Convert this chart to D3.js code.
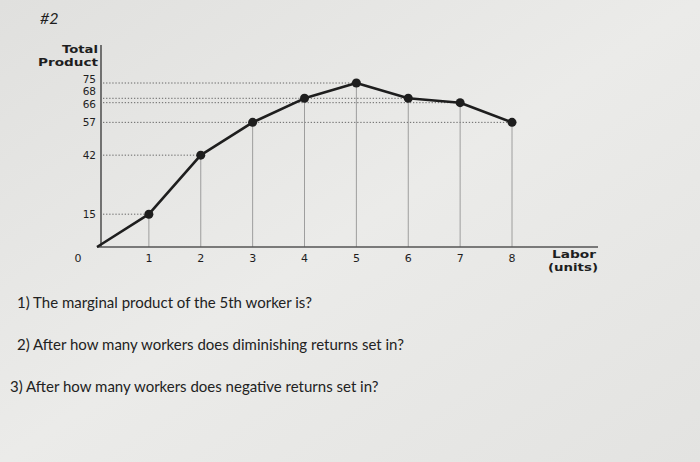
<!DOCTYPE html>
<html><head><meta charset="utf-8">
<script src="https://cdn.jsdelivr.net/npm/d3@7"></script>
<style>
html,body{margin:0;padding:0;background:#e7e7e5;}
svg{display:block;}
</style></head>
<body>
<script>
const labor = [0, 1, 2, 3, 4, 5, 6, 7, 8];
const totalProduct = [0, 15, 42, 57, 68, 75, 68, 66, 57];
const yTicks = [15, 42, 57, 66, 68, 75];
const xTicks = [1, 2, 3, 4, 5, 6, 7, 8];
const questions = [
  "1) The marginal product of the 5th worker is?",
  "2) After how many workers does diminishing returns set in?",
  "3) After how many workers does negative returns set in?"
];

const W = 700, H = 462;
const svg = d3.select("body").append("svg").attr("width", W).attr("height", H);

const defs = svg.append("defs");
const grad = defs.append("linearGradient").attr("id","bg").attr("x1","0").attr("x2","1").attr("y1","0").attr("y2","1");
grad.append("stop").attr("offset","0").attr("stop-color","#e0e0de");
grad.append("stop").attr("offset","0.5").attr("stop-color","#ebebe9");
grad.append("stop").attr("offset","1").attr("stop-color","#e3e3e1");
svg.append("rect").attr("width",W).attr("height",H).attr("fill","url(#bg)");

const x = d3.scaleLinear().domain([0, 8]).range([97, 512]);
const y = d3.scaleLinear().domain([0, 75]).range([247, 83]);
const axisX = 101;

const data = labor.map((l, i) => ({l, v: totalProduct[i]}));
const ink = "#1e1e1e";
const font = "'DejaVu Sans', Arial, sans-serif";

// "#2"
svg.append("text").attr("x", 40).attr("y", 24).text("#2")
  .attr("font-family","Lato, 'Open Sans', sans-serif").attr("font-style","italic")
  .attr("font-size", 16).attr("fill", ink);

// dotted horizontal guides: from y axis to the furthest point with that value
yTicks.forEach(t => {
  const maxL = d3.max(data.filter(d => d.v === t), d => d.l);
  svg.append("line").attr("x1", axisX + 2).attr("x2", x(maxL))
    .attr("y1", y(t)).attr("y2", y(t))
    .attr("stroke", "#666").attr("stroke-width", 1).attr("stroke-dasharray", "1.3,1.8");
});

// vertical thin lines from points to axis
data.filter(d => d.l > 0).forEach(d => {
  svg.append("line").attr("x1", x(d.l)).attr("x2", x(d.l))
    .attr("y1", y(d.v)).attr("y2", y(0))
    .attr("stroke", "#8a8a8a").attr("stroke-width", 0.8);
});

// axes
svg.append("line").attr("x1", axisX).attr("x2", axisX).attr("y1", y(0)).attr("y2", 45)
  .attr("stroke", "#333").attr("stroke-width", 1.3);
svg.append("line").attr("x1", x(0)).attr("x2", 598).attr("y1", y(0)).attr("y2", y(0))
  .attr("stroke", "#555").attr("stroke-width", 1.3);

// y tick labels
const yOff = {75: -4, 68: -6.8, 66: 1.8};
svg.selectAll(".yt").data(yTicks).enter().append("text")
  .attr("x", axisX - 5).attr("y", d => y(d) + (yOff[d] || 0))
  .attr("dy", "0.36em").attr("text-anchor", "end")
  .attr("font-family", font).attr("font-size", 10.5).attr("fill", ink)
  .text(d => d);

// x tick labels
svg.selectAll(".xt").data(xTicks).enter().append("text")
  .attr("x", d => x(d)).attr("y", 262).attr("text-anchor", "middle")
  .attr("font-family", font).attr("font-size", 11).attr("fill", ink)
  .text(d => d);
svg.append("text").attr("x", 78).attr("y", 262).attr("text-anchor", "middle")
  .attr("font-family", font).attr("font-size", 11).attr("fill", ink).text("0");

// axis titles
function title(txt, xx, yy, len) {
  svg.append("text").attr("x", xx - len).attr("y", yy)
    .attr("textLength", len).attr("lengthAdjust", "spacingAndGlyphs")
    .attr("font-family", font).attr("font-weight", "bold").attr("font-size", 10.5)
    .attr("fill", ink).text(txt);
}
title("Total", 98, 53, 36);
title("Product", 98, 66, 60);
title("Labor", 596, 258, 44);
title("(units)", 598, 271, 50);

// curve
svg.append("path").datum(data)
  .attr("d", d3.line().x(d => x(d.l)).y(d => y(d.v)))
  .attr("fill", "none").attr("stroke", ink).attr("stroke-width", 2.6).attr("stroke-linejoin", "round");

svg.selectAll(".pt").data(data.filter(d => d.l > 0)).enter().append("circle")
  .attr("cx", d => x(d.l)).attr("cy", d => y(d.v)).attr("r", 4.5).attr("fill", ink);

// questions
const qx = [17, 17, 10];
const qy = [308, 350, 392];
questions.forEach((q, i) => {
  svg.append("text").attr("x", qx[i]).attr("y", qy[i]).text(q)
    .attr("font-family", "Lato, 'Open Sans', sans-serif").attr("font-size", 15).attr("fill", "#222");
});
</script>
</body></html>
